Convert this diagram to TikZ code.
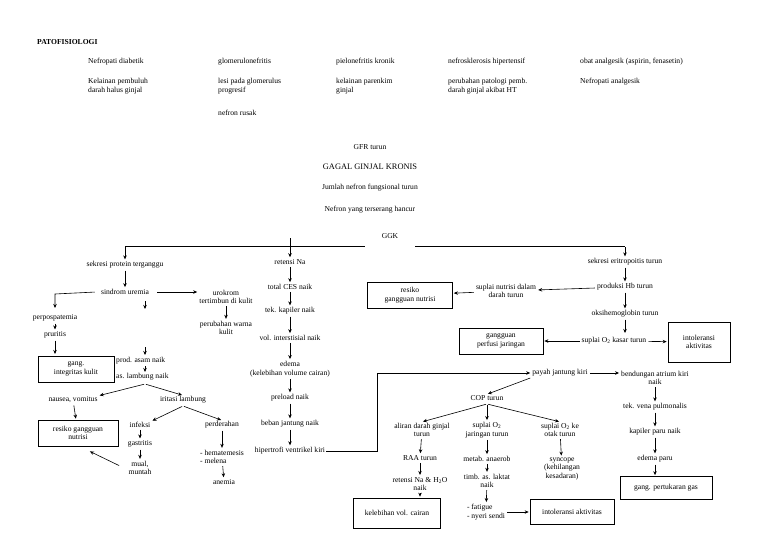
\documentclass[tikz,border=0pt]{standalone}
\usepackage{fontspec}
\setmainfont{Liberation Serif}
\usetikzlibrary{arrows.meta}
\begin{document}
\begin{tikzpicture}[x=1pt,y=-1pt,
  every node/.style={font=\fontsize{7.6}{8.6}\selectfont, inner sep=1pt, align=center},
  L/.style={anchor=north west, align=left},
  bx/.style={draw, line width=0.7pt, minimum width=#1, minimum height=26pt},
  ar/.style={-{Stealth[length=4pt,width=3.5pt]}, line width=0.6pt, shorten >=1pt, shorten <=1pt},
  ln/.style={line width=0.6pt}]
\useasboundingbox (0,0) rectangle (768,543);
\node[L,font=\fontsize{7.6}{8.6}\selectfont\bfseries] (title) at (36,38) {PATOFISIOLOGI};
\node[L] (c1) at (87,57) {Nefropati diabetik};
\node[L] (c2) at (217,57) {glomerulonefritis};
\node[L] (c3) at (335,57) {pielonefritis kronik};
\node[L] (c4) at (447,57) {nefrosklerosis hipertensif};
\node[L] (c5) at (579,57) {obat analgesik (aspirin, fenasetin)};
\node[L] (d1) at (87,77) {Kelainan pembuluh\\darah halus ginjal};
\node[L] (d2) at (217,77) {lesi pada glomerulus\\progresif};
\node[L] (d3) at (335,77) {kelainan parenkim\\ginjal};
\node[L] (d4) at (447,77) {perubahan patologi pemb.\\darah ginjal akibat HT};
\node[L] (d5) at (579,77) {Nefropati analgesik};
\node[L] (d6) at (217,109) {nefron rusak};
\node (gfr) at (370,147) {GFR turun};
\node[font=\fontsize{8.4}{9.4}\selectfont] (ggkr) at (370,167) {GAGAL GINJAL KRONIS};
\node (jml) at (370,188) {Jumlah nefron fungsional turun};
\node (nef) at (370,210) {Nefron yang terserang hancur};
\node (ggk) at (390,236) {GGK};
\coordinate (hl) at (125,246); \coordinate (hr) at (625,246);
\draw[ln] (hl) -- (365,246); \draw[ln] (415,246) -- (hr);
% left column
\node (sp) at (125,265) {sekresi protein terganggu};
\draw[ar] (hl) -- (sp);
\node (su) at (125,292) {sindrom uremia};
\draw[ar] (sp) -- (su);
\node (uro) at (226,297) {urokrom\\tertimbun di kulit};
\draw[ar] (su.east) ++(6,0) coordinate (s1) -- (uro.west |- su.east);
\node (pwk) at (226,328) {perubahan warna\\kulit};
\draw[ar] (uro) -- (pwk);
\coordinate (sul) at (55,294);
\draw[ar] (su.west) ++(-4,0) -- (sul) -- (55,309);
\node (per) at (55,318) {perpospatemia};
\node (pru) at (55,335) {pruritis};
\draw[ar] (per) -- (pru);
\node[bx=76pt] (gik) at (76,369) {gang.\\integritas kulit};
\draw[ar] (pru) -- (55,355);
\coordinate (a1) at (145,300); \coordinate (a2) at (145,310);
\draw[ar] (a1) -- (a2);
\node[anchor=west] (pa) at (115,361) {prod. asam naik};
\node[anchor=west] (al) at (115,377) {as. lambung naik};
\draw[ar] (145,346) -- (145,356);
\draw[ar] (145,365) -- (145,373);
\node (nv) at (73,400) {nausea, vomitus};
\node (il) at (183,400) {iritasi lambung};
\coordinate (alb) at (145,384);
\draw[ar] (alb) -- (nv.north east);
\draw[ar] (alb) -- (il.north);
\node[bx=80pt] (rgn) at (78,433) {resiko gangguan\\nutrisi};
\draw[ar] (nv) -- (rgn);
\node (inf) at (140,425) {infeksi};
\node (per2) at (222,425) {perderahan};
\coordinate (ilb) at (183,406);
\draw[ar] (ilb) -- (inf.north east);
\draw[ar] (ilb) -- (per2.north);
\node (gas) at (140,444) {gastritis};
\node (mm) at (140,468) {mual,\\muntah};
\draw[ar] (inf) -- (gas); \draw[ar] (gas) -- (mm);
\node[align=left] (hm) at (222,457) {- hematemesis\\- melena};
\node (an) at (224,482) {anemia};
\draw[ar] (per2) -- (hm); \draw[ar] (hm) -- (an);
\coordinate (mmf) at (120,466); \coordinate (rgt) at (89,451);
\draw[ar] (mmf) -- (rgt);
% middle column
\node (rna) at (290,262) {retensi Na};
\draw[ar] (290,237) -- (rna);
\node (ces) at (290,287) {total CES naik};
\node (tk) at (290,311) {tek. kapiler naik};
\node (vi) at (290,338) {vol. interstisial naik};
\node (ed) at (290,369) {edema\\(kelebihan volume cairan)};
\node (pl) at (290,398) {preload naik};
\node (bj) at (290,424) {beban jantung naik};
\node (hv) at (290,451) {hipertrofi ventrikel kiri};
\draw[ar] (rna) -- (ces); \draw[ar] (ces) -- (tk); \draw[ar] (tk) -- (vi);
\draw[ar] (vi) -- (ed); \draw[ar] (ed) -- (pl); \draw[ar] (pl) -- (bj); \draw[ar] (bj) -- (hv);
% right column
\node (se) at (625,262) {sekresi eritropoitis turun};
\draw[ar] (hr) -- (se);
\node (hb) at (625,287) {produksi Hb turun};
\node (ok) at (625,314) {oksihemoglobin turun};
\node (so) at (614,341) {suplai O\textsubscript{2} kasar turun};
\draw[ar] (se) -- (hb); \draw[ar] (hb) -- (ok); \draw[ar] (ok) -- (625,334);
\node (snd) at (506,291) {suplai nutrisi dalam\\darah turun};
\draw[ar] (hb) -- (snd);
\node[bx=85pt] (rgn2) at (410,295) {resiko\\gangguan nutrisi};
\draw[ar] (snd) -- (rgn2);
\node[bx=84pt] (gpj) at (501,341) {gangguan\\perfusi jaringan};
\draw[ar] (so) -- (gpj);
\node[bx=62pt, minimum height=40pt] (ia1) at (699,342) {intoleransi\\aktivitas};
\draw[ar] (so) -- (ia1);
\node (pjk) at (560,373) {payah jantung kiri};
\draw[ln] (hv.east) -- (377,451) -- (377,373);
\draw[ar] (377,373) -- (pjk);
\node (bak) at (655,378) {bendungan atrium kiri\\naik};
\draw[ar] (pjk) -- (bak.west |- pjk);
\node (tvp) at (655,407) {tek. vena pulmonalis};
\node (kp) at (655,432) {kapiler paru naik};
\node (ep) at (655,459) {edema paru};
\node[bx=92pt, minimum height=23pt] (gpg) at (666,488) {gang. pertukaran gas};
\draw[ar] (bak) -- (tvp); \draw[ar] (tvp) -- (kp); \draw[ar] (kp) -- (ep); \draw[ar] (ep) -- (ep |- gpg.north);
\node (cop) at (487,398) {COP turun};
\draw[ar] (pjk.south west) -- (cop.north);
\node (adg) at (422,430) {aliran darah ginjal\\turun};
\node (sjt) at (487,430) {suplai O\textsubscript{2}\\jaringan turun};
\node (sot) at (560,430) {suplai O\textsubscript{2} ke\\otak turun};
\coordinate (copb) at (487,404);
\draw[ar] (copb) -- (adg.north);
\draw[ar] (copb) -- (sjt.north);
\draw[ar] (copb) -- (sot.north);
\node (raa) at (420,458) {RAA turun};
\node (rnh) at (420,484) {retensi Na \& H\textsubscript{2}O\\naik};
\node[bx=87pt, minimum height=30pt] (kvc) at (397,513) {kelebihan vol. cairan};
\draw[ar] (adg) -- (raa); \draw[ar] (raa) -- (rnh); \draw[ar] (rnh) -- (rnh |- kvc.north);
\node (ma) at (487,459) {metab. anaerob};
\node (tal) at (487,481) {timb. as. laktat\\naik};
\node[align=left] (fn) at (486,512) {- fatigue\\- nyeri sendi};
\draw[ar] (sjt) -- (ma); \draw[ar] (ma) -- (tal); \draw[ar] (tal) -- (fn);
\node[bx=84pt, minimum height=25pt] (ia2) at (572,512) {intoleransi aktivitas};
\draw[ar] (fn) -- (ia2);
\node (syn) at (562,469) {syncope\\(kehilangan\\kesadaran)};
\draw[ar] (sot) -- (syn);
\end{tikzpicture}
\end{document}
